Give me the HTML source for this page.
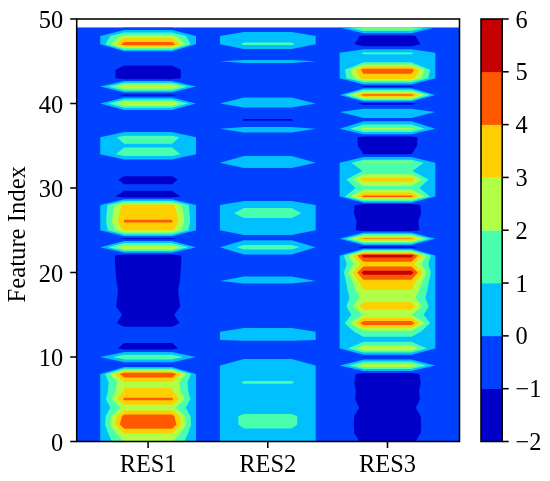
<!DOCTYPE html>
<html><head><meta charset="utf-8"><title>Feature Index</title>
<style>html,body{margin:0;padding:0;background:#fff}svg{display:block}</style></head>
<body>
<svg width="550" height="481" viewBox="0 0 550 481">
<rect width="550" height="481" fill="#fff"/>
<rect x="76.30" y="27.45" width="383.00" height="414.05" fill="#0040ff"/>
<path d="M124.17,441.50L148.11,441.50L172.05,441.50L195.99,441.50L195.99,433.05L195.99,424.60L195.99,416.15L195.99,407.70L195.99,399.25L195.99,390.80L195.99,382.35L195.99,373.90L172.05,367.00L148.11,367.00L124.17,367.00L100.24,373.90L100.24,382.35L100.24,390.80L100.24,399.25L100.24,407.70L100.24,416.15L100.24,424.60L100.24,433.05L100.24,441.50L124.17,441.50ZM243.86,441.50L267.80,441.50L291.74,441.50L315.67,441.50L315.67,433.05L315.67,424.60L315.67,416.15L315.67,407.70L315.67,399.25L315.67,390.80L315.67,382.35L315.67,373.90L315.67,365.45L291.74,359.05L267.80,359.05L243.86,359.05L219.93,365.45L219.93,373.90L219.93,382.35L219.93,390.80L219.93,399.25L219.93,407.70L219.93,416.15L219.93,424.60L219.93,433.05L219.93,441.50L243.86,441.50ZM363.55,370.94L387.49,370.94L411.43,370.94L435.36,365.45L411.43,359.38L387.49,359.38L363.55,359.38L339.61,365.45L363.55,370.94ZM124.17,362.35L148.11,362.35L172.05,362.35L195.99,357.00L172.05,352.08L148.11,352.08L124.17,352.08L100.24,357.00L124.17,362.35ZM363.55,354.71L387.49,354.71L411.43,354.71L435.36,348.55L435.36,340.10L435.36,331.65L435.36,323.20L435.36,314.75L435.36,306.30L435.36,297.85L435.36,289.40L435.36,280.95L435.36,272.50L435.36,264.05L435.36,255.60L411.43,248.86L387.49,248.86L363.55,248.86L339.61,255.60L339.61,264.05L339.61,272.50L339.61,280.95L339.61,289.40L339.61,297.85L339.61,306.30L339.61,314.75L339.61,323.20L339.61,331.65L339.61,340.10L339.61,348.55L363.55,354.71ZM243.86,340.79L267.80,340.79L291.74,340.79L315.67,340.10L315.67,331.65L291.74,327.89L267.80,327.89L243.86,327.89L219.93,331.65L219.93,340.10L243.86,340.79ZM243.86,283.57L267.80,283.57L291.74,283.57L315.67,280.95L291.74,276.38L267.80,276.38L243.86,276.38L219.93,280.95L243.86,283.57ZM124.17,252.69L148.11,252.69L172.05,252.69L195.99,247.15L172.05,241.12L148.11,241.12L124.17,241.12L100.24,247.15L124.17,252.69ZM243.86,254.58L267.80,254.58L291.74,254.58L315.67,247.15L291.74,240.14L267.80,240.14L243.86,240.14L219.93,247.15L243.86,254.58ZM363.55,245.04L387.49,245.04L411.43,245.04L435.36,238.70L411.43,232.47L387.49,232.47L363.55,232.47L339.61,238.70L363.55,245.04ZM124.17,236.31L148.11,236.31L172.05,236.31L195.99,230.25L195.99,221.80L195.99,213.35L195.99,204.90L172.05,199.16L148.11,199.16L124.17,199.16L100.24,204.90L100.24,213.35L100.24,221.80L100.24,230.25L124.17,236.31ZM243.86,235.08L267.80,235.08L291.74,235.08L315.67,230.25L315.67,221.80L315.67,213.35L315.67,204.90L291.74,201.00L267.80,201.00L243.86,201.00L219.93,204.90L219.93,213.35L219.93,221.80L219.93,230.25L243.86,235.08ZM363.55,202.63L387.49,202.63L411.43,202.63L435.36,196.45L435.36,188.00L435.36,179.55L435.36,171.10L435.36,162.65L411.43,156.99L387.49,156.99L363.55,156.99L339.61,162.65L339.61,171.10L339.61,179.55L339.61,188.00L339.61,196.45L363.55,202.63ZM243.86,168.08L267.80,168.08L291.74,168.08L315.67,162.65L291.74,156.08L267.80,156.08L243.86,156.08L219.93,162.65L243.86,168.08ZM124.17,159.43L148.11,159.43L172.05,159.43L195.99,154.20L195.99,145.75L195.99,137.30L172.05,132.09L148.11,132.09L124.17,132.09L100.24,137.30L100.24,145.75L100.24,154.20L124.17,159.43ZM243.86,132.50L267.80,132.50L291.74,132.50L315.67,128.85L291.74,127.11L267.80,127.11L243.86,127.11L219.93,128.85L243.86,132.50ZM363.55,134.20L387.49,134.20L411.43,134.20L435.36,128.85L411.43,121.32L387.49,121.32L363.55,121.32L339.61,128.85L363.55,134.20ZM363.55,118.12L387.49,118.12L411.43,118.12L435.36,111.95L411.42,108.83L387.49,108.83L363.55,108.83L339.61,111.95L363.55,118.12ZM124.17,109.96L148.11,109.96L172.05,109.96L195.99,103.50L172.05,97.56L148.11,97.56L124.17,97.56L100.24,103.50L124.17,109.96ZM243.86,107.40L267.80,107.40L291.74,107.40L315.67,103.50L291.74,97.60L267.80,97.60L243.86,97.60L219.93,103.50L243.86,107.40ZM363.55,101.62L387.49,101.62L411.43,101.62L435.36,95.05L411.43,88.35L387.49,88.35L363.55,88.35L339.61,95.05L363.55,101.62ZM124.17,92.55L148.11,92.55L172.05,92.55L195.99,86.60L172.05,81.00L148.11,81.00L124.17,81.00L100.24,86.60L124.17,92.55ZM363.55,84.43L387.49,84.43L411.43,84.43L435.36,78.15L435.36,69.70L435.36,61.25L435.36,52.80L411.43,49.36L387.49,49.36L363.55,49.36L339.61,52.80L339.61,61.25L339.61,69.70L339.61,78.15L363.55,84.43ZM243.86,63.03L267.80,63.03L291.74,63.03L315.67,61.25L291.74,59.97L267.80,59.97L243.86,59.97L219.93,61.25L243.86,63.03ZM124.17,51.37L148.11,51.37L172.05,51.37L195.99,44.35L195.99,35.90L172.05,30.11L148.11,30.11L124.17,30.11L100.24,35.90L100.24,44.35L124.17,51.37ZM243.86,49.09L267.80,49.09L291.74,49.09L315.67,44.35L315.67,35.90L291.74,32.02L267.80,32.02L243.86,32.02L219.93,35.90L219.93,44.35L243.86,49.09ZM363.55,33.16L387.49,33.16L411.43,33.16L435.36,27.45L411.43,27.45L387.49,27.45L363.55,27.45L339.61,27.45L363.55,33.16Z" fill="#00c0ff" fill-rule="evenodd"/>
<path d="M124.17,441.50L148.11,441.50L172.05,441.50L184.48,441.50L188.14,433.05L191.10,424.60L190.55,416.15L185.80,407.70L190.29,399.25L188.22,390.80L187.59,382.35L191.10,373.90L172.05,368.41L148.11,368.41L124.17,368.41L105.12,373.90L108.64,382.35L108.01,390.80L105.94,399.25L110.42,407.70L105.68,416.15L105.12,424.60L108.09,433.05L111.75,441.50L124.17,441.50ZM243.86,428.56L267.80,428.56L291.74,428.56L297.26,424.60L297.26,416.15L291.74,413.95L267.80,413.95L243.86,413.95L238.34,416.15L238.34,424.60L243.86,428.56ZM243.86,383.76L267.80,383.76L291.74,383.76L294.30,382.35L291.74,380.94L267.80,380.94L243.86,380.94L241.30,382.35L243.86,383.76ZM363.55,368.95L387.49,368.95L411.43,368.95L426.66,365.45L411.43,361.59L387.49,361.59L363.55,361.59L348.32,365.45L363.55,368.95ZM124.17,359.54L148.11,359.54L172.05,359.54L183.39,357.00L172.05,354.67L148.11,354.67L124.18,354.67L112.84,357.00L124.17,359.54ZM363.55,352.58L387.49,352.58L411.43,352.58L427.11,348.55L411.43,341.72L387.49,341.72L363.55,341.72L347.87,348.55L363.55,352.58ZM363.55,336.64L387.49,336.64L411.43,336.64L420.85,331.65L430.21,323.20L423.69,314.75L428.62,306.30L425.39,297.85L427.46,289.40L428.98,280.95L430.97,272.50L428.32,264.05L431.01,255.60L411.43,250.09L387.49,250.09L363.55,250.09L343.96,255.60L346.65,264.05L344.00,272.50L346.00,280.95L347.51,289.40L349.59,297.85L346.36,306.30L351.29,314.75L344.76,323.20L354.12,331.65L363.55,336.64ZM124.17,250.91L148.11,250.91L172.05,250.91L188.32,247.15L172.05,243.05L148.11,243.05L124.17,243.05L107.91,247.15L124.17,250.91ZM243.86,249.49L267.80,249.49L291.74,249.49L299.28,247.15L291.74,244.94L267.80,244.94L243.86,244.94L236.32,247.15L243.86,249.49ZM363.55,243.53L387.49,243.53L411.43,243.53L429.66,238.70L411.43,233.96L387.49,233.96L363.55,233.96L345.31,238.70L363.55,243.53ZM124.17,234.40L148.11,234.40L172.05,234.40L188.44,230.25L190.12,221.80L189.60,213.35L188.71,204.90L172.05,200.90L148.11,200.90L124.17,200.90L107.51,204.90L106.62,213.35L106.10,221.80L107.79,230.25L124.17,234.40ZM243.86,217.99L267.80,217.99L291.74,217.99L301.34,213.35L291.74,208.06L267.80,208.06L243.86,208.06L234.26,213.35L243.86,217.99ZM363.55,201.21L387.49,201.21L411.43,201.21L429.86,196.45L419.40,188.00L428.62,179.55L412.56,171.10L423.57,162.65L411.43,159.78L387.49,159.78L363.55,159.78L351.40,162.65L362.41,171.10L346.36,179.55L355.57,188.00L345.12,196.45L363.55,201.21ZM124.17,156.03L148.11,156.03L172.05,156.03L180.44,154.20L172.05,147.39L148.11,147.39L124.17,147.39L115.78,154.20L124.17,156.03ZM124.17,143.86L148.11,143.86L172.05,143.86L179.48,137.30L172.05,135.68L148.11,135.68L124.17,135.68L116.75,137.30L124.17,143.86ZM363.55,131.88L387.49,131.88L411.43,131.88L424.95,128.85L411.43,124.59L387.49,124.59L363.55,124.59L350.02,128.85L363.55,131.88ZM124.17,107.86L148.11,107.86L172.05,107.86L188.22,103.50L172.05,99.49L148.11,99.49L124.17,99.49L108.01,103.50L124.17,107.86ZM363.55,100.18L387.49,100.18L411.43,100.18L430.10,95.05L411.43,89.82L387.49,89.82L363.55,89.82L344.87,95.05L363.55,100.18ZM124.17,90.63L148.11,90.63L172.05,90.63L188.27,86.60L172.05,82.81L148.11,82.81L124.17,82.81L107.96,86.60L124.17,90.63ZM363.55,82.61L387.49,82.61L411.43,82.61L428.42,78.15L430.04,69.70L411.43,62.31L387.49,62.31L363.55,62.31L344.93,69.70L346.55,78.15L363.55,82.61ZM363.55,54.21L387.49,54.21L411.43,54.21L413.60,52.80L411.43,52.49L387.49,52.49L363.55,52.49L361.37,52.80L363.55,54.21ZM124.17,49.86L148.11,49.86L172.05,49.86L190.85,44.35L186.01,35.90L172.05,32.52L148.11,32.52L124.17,32.52L110.21,35.90L105.37,44.35L124.17,49.86ZM243.86,44.97L267.80,44.97L291.74,44.97L294.86,44.35L291.74,42.40L267.80,42.40L243.86,42.40L240.74,44.35L243.86,44.97ZM363.55,30.88L387.49,30.88L411.43,30.88L425.79,27.45L411.43,27.45L387.49,27.45L363.55,27.45L349.19,27.45L363.55,30.88Z" fill="#49ffad" fill-rule="evenodd"/>
<path d="M124.17,441.50L148.11,441.50L172.05,441.50L172.97,441.50L180.29,433.05L186.22,424.60L185.11,416.15L175.62,407.70L184.59,399.25L180.44,390.80L179.19,382.35L186.22,373.90L172.05,369.82L148.11,369.82L124.17,369.82L110.01,373.90L117.04,382.35L115.78,390.80L111.64,399.25L120.61,407.70L111.12,416.15L110.01,424.60L115.93,433.05L123.25,441.50L124.17,441.50ZM363.55,366.95L387.49,366.95L411.43,366.95L417.95,365.45L411.43,363.80L387.49,363.80L363.55,363.80L357.02,365.45L363.55,366.95ZM363.55,350.46L387.49,350.46L411.43,350.46L418.85,348.55L411.43,345.31L387.49,345.31L363.55,345.31L356.12,348.55L363.55,350.46ZM363.55,330.66L387.49,330.66L411.43,330.66L425.07,323.20L412.01,314.75L421.88,306.30L415.41,297.85L419.56,289.40L422.60,280.95L426.58,272.50L421.28,264.05L426.66,255.60L411.43,251.31L387.49,251.31L363.55,251.31L348.32,255.60L353.69,264.05L348.40,272.50L352.38,280.95L355.41,289.40L359.56,297.85L353.10,306.30L362.97,314.75L349.91,323.20L363.55,330.66ZM124.17,249.14L148.11,249.14L172.05,249.14L180.64,247.15L172.05,244.98L148.11,244.98L124.17,244.98L115.58,247.15L124.17,249.14ZM363.55,242.02L387.49,242.02L411.43,242.02L423.96,238.70L411.43,235.44L387.49,235.44L363.55,235.44L351.01,238.70L363.55,242.02ZM124.17,232.49L148.11,232.49L172.05,232.49L180.88,230.25L184.25,221.80L183.22,213.35L181.44,204.90L172.05,202.65L148.11,202.65L124.17,202.65L114.79,204.90L113.00,213.35L111.97,221.80L115.34,230.25L124.17,232.49ZM363.55,199.79L387.49,199.79L411.43,199.79L424.36,196.45L411.43,189.48L387.49,189.48L363.55,189.48L350.62,196.45L363.55,199.79ZM363.55,185.94L387.49,185.94L411.43,185.94L421.88,179.55L411.43,174.31L387.49,174.31L363.55,174.31L353.10,179.55L363.55,185.94ZM363.55,162.91L387.49,162.91L411.43,162.91L411.78,162.65L411.43,162.57L387.49,162.57L363.55,162.57L363.20,162.65L363.55,162.91ZM363.55,129.55L387.49,129.55L411.43,129.55L414.55,128.85L411.43,127.87L387.49,127.87L363.55,127.87L360.43,128.85L363.55,129.55ZM124.17,105.76L148.11,105.76L172.05,105.76L180.44,103.50L172.05,101.42L148.11,101.42L124.17,101.42L115.78,103.50L124.17,105.76ZM363.55,98.73L387.49,98.73L411.43,98.73L424.84,95.05L411.43,91.30L387.49,91.30L363.55,91.30L350.13,95.05L363.55,98.73ZM124.17,88.71L148.11,88.71L172.05,88.71L180.54,86.60L172.05,84.61L148.11,84.61L124.17,84.61L115.68,86.60L124.17,88.71ZM363.55,80.79L387.49,80.79L411.43,80.79L421.49,78.15L424.72,69.70L411.43,64.42L387.49,64.42L363.55,64.42L350.25,69.70L353.49,78.15L363.55,80.79ZM124.17,48.36L148.11,48.36L172.05,48.36L185.71,44.35L176.04,35.90L172.05,34.93L148.11,34.93L124.17,34.93L120.19,35.90L110.51,44.35L124.17,48.36ZM363.55,28.59L387.49,28.59L411.43,28.59L416.21,27.45L411.43,27.45L387.49,27.45L363.55,27.45L358.76,27.45L363.55,28.59Z" fill="#b1ff46" fill-rule="evenodd"/>
<path d="M124.17,433.49L148.11,433.49L172.05,433.49L172.44,433.05L181.33,424.60L179.67,416.15L172.05,410.38L148.11,410.38L124.17,410.38L116.56,416.15L114.89,424.60L123.78,433.05L124.17,433.49ZM124.17,404.73L148.11,404.73L172.05,404.73L178.89,399.25L172.67,390.80L172.05,387.86L148.11,387.86L124.17,387.86L123.55,390.80L117.34,399.25L124.17,404.73ZM124.17,381.73L148.11,381.73L172.05,381.73L181.33,373.90L172.05,371.22L148.11,371.22L124.17,371.22L114.89,373.90L124.17,381.73ZM363.55,327.85L387.49,327.85L411.43,327.85L419.92,323.20L411.43,317.84L387.49,317.84L363.55,317.84L355.06,323.20L363.55,327.85ZM363.55,309.40L387.49,309.40L411.43,309.40L415.13,306.30L411.43,302.26L387.49,302.26L363.55,302.26L359.84,306.30L363.55,309.40ZM363.55,289.80L387.49,289.80L411.43,289.80L411.66,289.40L416.21,280.95L422.19,272.50L414.24,264.05L422.31,255.60L411.43,252.54L387.49,252.54L363.55,252.54L352.67,255.60L360.73,264.05L352.79,272.50L358.76,280.95L363.31,289.40L363.55,289.80ZM124.17,247.36L148.11,247.36L172.05,247.36L172.97,247.15L172.05,246.92L148.11,246.92L124.17,246.92L123.25,247.15L124.17,247.36ZM363.55,240.51L387.49,240.51L411.43,240.51L418.26,238.70L411.43,236.92L387.49,236.92L363.55,236.92L356.71,238.70L363.55,240.51ZM124.17,230.57L148.11,230.57L172.05,230.57L173.33,230.25L178.39,221.80L176.84,213.35L174.16,204.90L172.05,204.39L148.11,204.39L124.17,204.39L122.07,204.90L119.39,213.35L117.84,221.80L122.89,230.25L124.17,230.57ZM363.55,198.37L387.49,198.37L411.43,198.37L418.85,196.45L411.43,192.45L387.49,192.45L363.55,192.45L356.12,196.45L363.55,198.37ZM363.55,181.82L387.49,181.82L411.42,181.82L415.13,179.55L411.43,177.69L387.49,177.69L363.55,177.69L359.84,179.55L363.55,181.82ZM124.17,103.67L148.11,103.67L172.05,103.67L172.67,103.50L172.05,103.35L148.11,103.35L124.17,103.35L123.55,103.50L124.17,103.67ZM363.55,97.29L387.49,97.29L411.43,97.29L419.58,95.05L411.43,92.77L387.49,92.77L363.55,92.77L355.40,95.05L363.55,97.29ZM124.17,86.79L148.11,86.79L172.05,86.79L172.82,86.60L172.05,86.42L148.11,86.42L124.17,86.42L123.40,86.60L124.17,86.79ZM363.55,78.97L387.49,78.97L411.42,78.97L414.55,78.15L419.40,69.70L411.43,66.53L387.49,66.53L363.55,66.53L355.57,69.70L360.43,78.15L363.55,78.97ZM124.17,46.85L148.11,46.85L172.05,46.85L180.58,44.35L172.05,38.14L148.11,38.14L124.17,38.14L115.65,44.35L124.17,46.85Z" fill="#ffd000" fill-rule="evenodd"/>
<path d="M124.17,428.71L148.11,428.71L172.05,428.71L176.45,424.60L174.23,416.15L172.05,414.50L148.11,414.50L124.17,414.50L122.00,416.15L119.78,424.60L124.17,428.71ZM124.17,400.16L148.11,400.16L172.05,400.16L173.19,399.25L172.05,397.74L148.11,397.74L124.17,397.74L123.04,399.25L124.17,400.16ZM124.17,377.61L148.11,377.61L172.05,377.61L176.45,373.90L172.05,372.63L148.11,372.63L124.17,372.63L119.78,373.90L124.17,377.61ZM363.55,325.03L387.49,325.03L411.43,325.03L414.77,323.20L411.43,321.09L387.49,321.09L363.55,321.09L360.20,323.20L363.55,325.03ZM363.55,279.71L387.49,279.71L411.43,279.71L417.79,272.50L411.43,266.52L387.49,266.52L363.55,266.52L357.18,272.50L363.55,279.71ZM363.55,261.64L387.49,261.64L411.43,261.64L417.95,255.60L411.43,253.76L387.49,253.76L363.55,253.76L357.02,255.60L363.55,261.64ZM363.55,239.00L387.49,239.00L411.43,239.00L412.56,238.70L411.43,238.40L387.49,238.40L363.55,238.40L362.41,238.70L363.55,239.00ZM124.18,222.54L148.11,222.54L172.05,222.54L172.52,221.80L172.05,219.75L148.11,219.75L124.17,219.75L123.71,221.80L124.18,222.54ZM363.55,196.95L387.49,196.95L411.43,196.95L413.35,196.45L411.43,195.41L387.49,195.41L363.55,195.41L361.62,196.45L363.55,196.95ZM363.55,95.84L387.49,95.84L411.43,95.84L414.32,95.05L411.43,94.24L387.49,94.24L363.55,94.24L360.66,95.05L363.55,95.84ZM363.55,73.72L387.49,73.72L411.43,73.72L414.08,69.70L411.43,68.64L387.49,68.64L363.55,68.64L360.89,69.70L363.55,73.72ZM124.17,45.34L148.11,45.34L172.05,45.34L175.44,44.35L172.05,41.88L148.11,41.88L124.17,41.88L120.78,44.35L124.17,45.34Z" fill="#ff5900" fill-rule="evenodd"/>
<path d="M363.55,274.74L387.49,274.74L411.43,274.74L413.40,272.50L411.43,270.65L387.49,270.65L363.55,270.65L361.57,272.50L363.55,274.74ZM363.55,257.61L387.49,257.61L411.43,257.61L413.60,255.60L411.43,254.99L387.49,254.99L363.55,254.99L361.37,255.60L363.55,257.61Z" fill="#c40000" fill-rule="evenodd"/>
<path d="M363.55,441.50L387.49,441.50L411.43,441.50L415.58,441.50L420.77,433.05L421.28,424.60L420.77,416.15L415.90,407.70L419.82,399.25L419.19,390.80L420.77,382.35L419.19,373.90L411.43,372.94L387.49,372.94L363.55,372.94L355.79,373.90L354.21,382.35L355.79,390.80L355.16,399.25L359.07,407.70L354.21,416.15L353.69,424.60L354.21,433.05L359.40,441.50L363.55,441.50ZM124.17,365.59L148.11,365.59L172.05,365.59L174.23,365.45L172.05,365.17L148.11,365.17L124.18,365.17L122.00,365.45L124.17,365.59ZM363.55,357.18L387.49,357.18L411.43,357.18L413.20,357.00L411.43,356.83L387.49,356.83L363.55,356.83L361.78,357.00L363.55,357.18ZM124.17,349.48L148.11,349.48L172.05,349.48L178.39,348.55L172.05,343.02L148.11,343.02L124.17,343.02L117.84,348.55L124.17,349.48ZM124.17,326.64L148.11,326.64L172.05,326.64L179.59,323.20L174.23,314.75L180.24,306.30L178.89,297.85L178.26,289.40L179.81,280.95L180.64,272.50L181.12,264.05L181.39,255.60L172.05,254.46L148.11,254.46L124.17,254.46L114.83,255.60L115.11,264.05L115.58,272.50L116.41,280.95L117.97,289.40L117.34,297.85L115.99,306.30L122.00,314.75L116.63,323.20L124.17,326.64ZM363.55,247.64L387.49,247.64L411.43,247.64L418.26,247.15L411.43,246.55L387.49,246.55L363.55,246.55L356.71,247.15L363.55,247.64ZM124.17,239.18L148.11,239.18L172.05,239.18L176.84,238.70L172.05,238.22L148.11,238.22L124.17,238.22L119.39,238.70L124.17,239.18ZM363.55,230.99L387.49,230.99L411.43,230.99L419.40,230.25L418.39,221.80L421.03,213.35L420.40,204.90L411.43,204.05L387.49,204.05L363.55,204.05L354.57,204.90L353.95,213.35L356.59,221.80L355.57,230.25L363.55,230.99ZM124.17,197.41L148.11,197.41L172.05,197.41L180.54,196.45L172.05,190.64L148.11,190.64L124.17,190.64L115.68,196.45L124.17,197.41ZM124.17,184.36L148.11,184.36L172.05,184.36L177.99,179.55L172.05,176.19L148.11,176.19L124.17,176.19L118.24,179.55L124.17,184.36ZM363.55,154.20L387.49,154.20L411.43,154.20L411.43,154.20L417.09,145.75L417.36,137.30L411.43,136.53L387.49,136.53L363.55,136.53L357.61,137.30L357.89,145.75L363.55,154.20ZM243.86,120.78L267.80,120.78L291.74,120.78L293.09,120.40L291.74,118.99L267.80,118.99L243.86,118.99L242.51,120.40L243.86,120.78ZM363.55,104.73L387.49,104.73L411.43,104.73L416.95,103.50L411.42,103.07L387.49,103.07L363.55,103.07L358.03,103.50L363.55,104.73ZM124.17,95.63L148.11,95.63L172.05,95.63L177.57,95.05L172.05,94.47L148.11,94.47L124.17,94.47L118.65,95.05L124.17,95.63ZM363.55,86.88L387.49,86.88L411.43,86.88L415.25,86.60L411.43,86.25L387.49,86.25L363.55,86.25L359.73,86.60L363.55,86.88ZM124.17,79.20L148.11,79.20L172.05,79.20L180.84,78.15L180.84,69.70L172.05,65.55L148.11,65.55L124.17,65.55L115.39,69.70L115.39,78.15L124.17,79.20ZM363.55,46.23L387.49,46.23L411.43,46.23L420.40,44.35L415.41,35.90L411.43,35.44L387.49,35.44L363.55,35.44L359.56,35.90L354.57,44.35L363.55,46.23ZM124.17,27.69L148.11,27.69L172.05,27.69L174.23,27.45L172.05,27.45L148.11,27.45L124.17,27.45L122.00,27.45L124.17,27.69Z" fill="#0000c8" fill-rule="evenodd"/>
<rect x="76.7" y="19.0" width="382.8" height="422.5" fill="none" stroke="#000" stroke-width="1.55"/>
<line x1="70.2" x2="76.7" y1="441.50" y2="441.50" stroke="#000" stroke-width="1.55"/>
<text x="63.2" y="450.50" text-anchor="end" font-family="'Liberation Serif', serif" font-size="24.4">0</text>
<line x1="70.2" x2="76.7" y1="357.00" y2="357.00" stroke="#000" stroke-width="1.55"/>
<text x="63.2" y="366.00" text-anchor="end" font-family="'Liberation Serif', serif" font-size="24.4">10</text>
<line x1="70.2" x2="76.7" y1="272.50" y2="272.50" stroke="#000" stroke-width="1.55"/>
<text x="63.2" y="281.50" text-anchor="end" font-family="'Liberation Serif', serif" font-size="24.4">20</text>
<line x1="70.2" x2="76.7" y1="188.00" y2="188.00" stroke="#000" stroke-width="1.55"/>
<text x="63.2" y="197.00" text-anchor="end" font-family="'Liberation Serif', serif" font-size="24.4">30</text>
<line x1="70.2" x2="76.7" y1="103.50" y2="103.50" stroke="#000" stroke-width="1.55"/>
<text x="63.2" y="112.50" text-anchor="end" font-family="'Liberation Serif', serif" font-size="24.4">40</text>
<line x1="70.2" x2="76.7" y1="19.00" y2="19.00" stroke="#000" stroke-width="1.55"/>
<text x="63.2" y="28.00" text-anchor="end" font-family="'Liberation Serif', serif" font-size="24.4">50</text>
<line x1="148.11" x2="148.11" y1="441.5" y2="448.0" stroke="#000" stroke-width="1.55"/>
<text x="148.11" y="471.90" text-anchor="middle" font-family="'Liberation Serif', serif" font-size="24.4">RES1</text>
<line x1="267.80" x2="267.80" y1="441.5" y2="448.0" stroke="#000" stroke-width="1.55"/>
<text x="267.80" y="471.90" text-anchor="middle" font-family="'Liberation Serif', serif" font-size="24.4">RES2</text>
<line x1="387.49" x2="387.49" y1="441.5" y2="448.0" stroke="#000" stroke-width="1.55"/>
<text x="387.49" y="471.90" text-anchor="middle" font-family="'Liberation Serif', serif" font-size="24.4">RES3</text>
<text transform="translate(25.3,234.25) rotate(-90)" text-anchor="middle" font-family="'Liberation Serif', serif" font-size="24.7">Feature Index</text>
<rect x="481.0" y="388.69" width="21.19999999999999" height="53.11" fill="#0000c8"/>
<rect x="481.0" y="335.88" width="21.19999999999999" height="53.11" fill="#0040ff"/>
<rect x="481.0" y="283.06" width="21.19999999999999" height="53.11" fill="#00c0ff"/>
<rect x="481.0" y="230.25" width="21.19999999999999" height="53.11" fill="#49ffad"/>
<rect x="481.0" y="177.44" width="21.19999999999999" height="53.11" fill="#b1ff46"/>
<rect x="481.0" y="124.62" width="21.19999999999999" height="53.11" fill="#ffd000"/>
<rect x="481.0" y="71.81" width="21.19999999999999" height="53.11" fill="#ff5900"/>
<rect x="481.0" y="19.00" width="21.19999999999999" height="53.11" fill="#c40000"/>
<rect x="481.0" y="19.0" width="21.19999999999999" height="422.5" fill="none" stroke="#000" stroke-width="1.55"/>
<line x1="502.2" x2="508.7" y1="441.50" y2="441.50" stroke="#000" stroke-width="1.55"/>
<text x="515.6" y="450.00" font-family="'Liberation Serif', serif" font-size="24.4">−2</text>
<line x1="502.2" x2="508.7" y1="388.69" y2="388.69" stroke="#000" stroke-width="1.55"/>
<text x="515.6" y="397.19" font-family="'Liberation Serif', serif" font-size="24.4">−1</text>
<line x1="502.2" x2="508.7" y1="335.88" y2="335.88" stroke="#000" stroke-width="1.55"/>
<text x="515.6" y="344.38" font-family="'Liberation Serif', serif" font-size="24.4">0</text>
<line x1="502.2" x2="508.7" y1="283.06" y2="283.06" stroke="#000" stroke-width="1.55"/>
<text x="515.6" y="291.56" font-family="'Liberation Serif', serif" font-size="24.4">1</text>
<line x1="502.2" x2="508.7" y1="230.25" y2="230.25" stroke="#000" stroke-width="1.55"/>
<text x="515.6" y="238.75" font-family="'Liberation Serif', serif" font-size="24.4">2</text>
<line x1="502.2" x2="508.7" y1="177.44" y2="177.44" stroke="#000" stroke-width="1.55"/>
<text x="515.6" y="185.94" font-family="'Liberation Serif', serif" font-size="24.4">3</text>
<line x1="502.2" x2="508.7" y1="124.62" y2="124.62" stroke="#000" stroke-width="1.55"/>
<text x="515.6" y="133.12" font-family="'Liberation Serif', serif" font-size="24.4">4</text>
<line x1="502.2" x2="508.7" y1="71.81" y2="71.81" stroke="#000" stroke-width="1.55"/>
<text x="515.6" y="80.31" font-family="'Liberation Serif', serif" font-size="24.4">5</text>
<line x1="502.2" x2="508.7" y1="19.00" y2="19.00" stroke="#000" stroke-width="1.55"/>
<text x="515.6" y="27.50" font-family="'Liberation Serif', serif" font-size="24.4">6</text>
</svg>
</body></html>
